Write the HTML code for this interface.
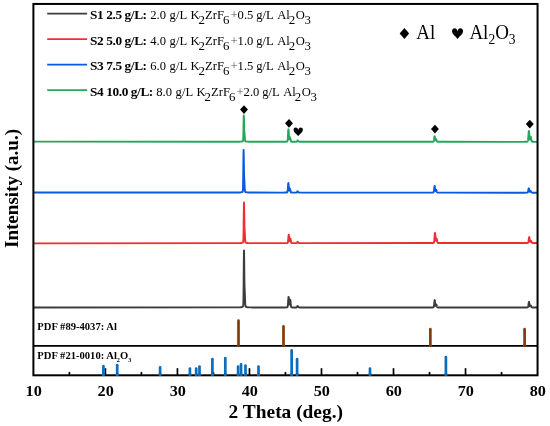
<!DOCTYPE html>
<html><head><meta charset="utf-8"><title>XRD patterns</title>
<style>
html,body{margin:0;padding:0;background:#fff;}
svg{display:block;}
text{font-family:"Liberation Serif","DejaVu Serif",serif;fill:#000;}
.b{font-weight:bold;}
</style></head><body>
<svg width="550" height="426" viewBox="0 0 550 426">
<rect width="550" height="426" fill="#fff"/>

<path d="M33.4,141.65 236.9,141.71 237.4,141.70 237.9,141.70 238.4,141.69 238.9,141.69 239.4,141.68 239.9,141.66 240.4,141.64 240.9,141.61 241.4,141.57 241.5,141.56 241.6,141.55 241.7,141.53 241.8,141.52 241.9,141.50 242.0,141.48 242.1,141.46 242.2,141.44 242.3,141.41 242.4,141.38 242.5,141.35 242.6,141.31 242.7,141.26 242.8,141.20 242.9,141.07 243.0,140.80 243.1,140.18 243.2,138.87 243.3,136.42 243.4,132.52 243.5,127.32 243.6,121.72 243.7,117.26 243.8,115.38 243.9,116.63 244.0,120.28 244.1,124.79 244.2,128.69 244.3,131.27 244.4,132.72 244.5,133.66 244.6,134.67 244.7,135.96 244.8,137.40 244.9,138.74 245.0,139.80 245.1,140.51 245.2,140.93 245.3,141.16 245.4,141.27 245.5,141.34 245.6,141.38 245.7,141.41 245.8,141.44 245.9,141.46 246.0,141.49 246.1,141.50 246.2,141.52 246.3,141.54 246.4,141.55 246.5,141.56 246.6,141.57 246.7,141.58 246.8,141.59 246.9,141.60 247.0,141.61 247.1,141.62 247.2,141.62 247.3,141.63 247.4,141.64 247.5,141.64 247.6,141.65 247.7,141.65 247.8,141.65 247.9,141.66 248.0,141.66 248.1,141.66 248.2,141.67 248.3,141.67 248.4,141.67 248.9,141.69 249.4,141.69 249.9,141.70 250.4,141.71 250.9,141.71 251.4,141.71 251.9,141.72 252.4,141.72 252.9,141.72 281.4,141.74 281.9,141.73 282.4,141.73 282.9,141.73 283.4,141.73 283.9,141.72 284.4,141.72 284.9,141.71 285.4,141.70 285.9,141.68 286.1,141.67 286.1,141.67 286.2,141.66 286.4,141.65 286.4,141.65 286.6,141.64 286.6,141.63 286.8,141.62 286.9,141.60 286.9,141.58 287.1,141.55 287.1,141.50 287.2,141.41 287.4,141.25 287.4,140.98 287.6,140.52 287.6,139.83 287.8,138.82 287.9,137.49 287.9,135.85 288.1,134.03 288.1,132.21 288.2,130.64 288.4,129.57 288.4,129.17 288.6,129.52 288.6,130.55 288.8,132.06 288.9,133.82 288.9,135.57 289.1,137.08 289.1,138.24 289.2,138.98 289.4,139.32 289.4,139.30 289.6,139.02 289.6,138.57 289.8,138.07 289.9,137.62 289.9,137.32 290.1,137.22 290.1,137.37 290.2,137.73 290.4,138.25 290.4,138.86 290.6,139.49 290.6,139.79 290.6,140.07 290.8,140.56 290.9,140.94 290.9,141.22 291.1,141.41 291.1,141.47 291.1,141.53 291.2,141.60 291.4,141.64 291.4,141.67 291.6,141.68 291.6,141.68 291.6,141.69 291.8,141.69 291.9,141.70 291.9,141.70 292.1,141.70 292.1,141.70 292.1,141.70 292.2,141.71 292.4,141.71 292.4,141.71 292.6,141.71 292.6,141.71 292.6,141.71 292.8,141.72 292.9,141.72 292.9,141.72 293.1,141.72 293.4,141.72 293.6,141.73 293.9,141.73 294.1,141.73 294.4,141.73 294.6,141.73 294.9,141.73 295.1,141.73 295.2,141.73 295.3,141.73 295.4,141.73 295.4,141.73 295.5,141.73 295.6,141.73 295.7,141.73 295.8,141.73 295.9,141.73 295.9,141.73 296.0,141.73 296.1,141.73 296.2,141.73 296.3,141.72 296.4,141.72 296.4,141.71 296.5,141.71 296.6,141.69 296.7,141.66 296.8,141.61 296.9,141.53 296.9,141.47 297.0,141.40 297.1,141.24 297.2,141.04 297.3,140.83 297.4,140.64 297.4,140.56 297.5,140.50 297.6,140.45 297.7,140.49 297.8,140.60 297.9,140.77 298.0,140.95 298.1,141.12 298.2,141.25 298.3,141.33 298.4,141.38 298.5,141.42 298.6,141.44 298.7,141.47 298.8,141.50 298.9,141.54 299.0,141.58 299.1,141.62 299.2,141.66 299.3,141.69 299.4,141.71 299.5,141.72 299.6,141.73 299.7,141.73 299.8,141.74 299.9,141.74 300.0,141.74 300.1,141.74 300.2,141.74 300.3,141.74 300.4,141.74 300.5,141.74 300.6,141.74 300.7,141.74 300.8,141.75 300.9,141.75 301.0,141.75 301.1,141.75 301.2,141.75 301.3,141.75 301.4,141.75 301.5,141.75 301.6,141.75 301.7,141.75 301.8,141.75 301.9,141.75 302.0,141.75 302.1,141.75 302.6,141.75 303.1,141.75 303.6,141.75 304.1,141.75 304.6,141.75 305.1,141.75 305.6,141.75 306.1,141.75 306.6,141.76 427.7,141.80 428.2,141.80 428.7,141.80 429.2,141.80 429.7,141.80 430.2,141.80 430.7,141.79 431.2,141.79 431.7,141.78 432.2,141.77 432.3,141.77 432.4,141.77 432.5,141.77 432.6,141.76 432.7,141.76 432.8,141.75 432.9,141.75 433.0,141.74 433.1,141.73 433.2,141.71 433.3,141.68 433.4,141.63 433.5,141.54 433.6,141.39 433.7,141.15 433.8,140.81 433.9,140.33 434.0,139.73 434.1,139.01 434.2,138.23 434.3,137.47 434.4,136.82 434.5,136.38 434.6,136.22 434.7,136.36 434.8,136.77 434.9,137.38 435.0,138.11 435.1,138.83 435.2,139.47 435.3,139.96 435.4,140.27 435.5,140.40 435.6,140.36 435.7,140.20 435.8,139.96 435.9,139.70 436.0,139.47 436.1,139.31 436.2,139.26 436.3,139.34 436.4,139.52 436.5,139.80 436.6,140.12 436.7,140.46 436.8,140.78 436.9,141.07 437.0,141.29 437.1,141.46 437.2,141.58 437.3,141.66 437.4,141.72 437.5,141.75 437.6,141.76 437.7,141.77 437.8,141.78 437.9,141.78 438.0,141.79 438.1,141.79 438.2,141.79 438.3,141.79 438.4,141.79 438.5,141.79 438.6,141.79 438.7,141.79 438.8,141.80 438.9,141.80 439.0,141.80 439.1,141.80 439.2,141.80 439.7,141.80 440.2,141.80 440.7,141.80 441.2,141.81 441.7,141.81 442.2,141.81 442.7,141.81 443.2,141.81 443.7,141.81 522.0,141.83 522.5,141.83 523.0,141.83 523.5,141.83 524.0,141.83 524.5,141.82 525.0,141.82 525.5,141.81 526.0,141.80 526.5,141.78 526.6,141.77 526.7,141.77 526.8,141.76 526.9,141.76 527.0,141.75 527.1,141.74 527.2,141.73 527.3,141.70 527.4,141.67 527.5,141.62 527.6,141.53 527.7,141.37 527.8,141.13 527.9,140.75 528.0,140.21 528.1,139.45 528.2,138.46 528.3,137.26 528.4,135.90 528.5,134.47 528.6,133.12 528.7,132.00 528.8,131.24 528.9,130.97 529.0,131.20 529.1,131.91 529.2,132.99 529.3,134.30 529.4,135.66 529.5,136.94 529.6,138.01 529.7,138.80 529.8,139.28 529.9,139.46 530.0,139.37 530.1,139.07 530.2,138.61 530.3,138.07 530.4,137.54 530.5,137.10 530.6,136.81 530.7,136.72 530.8,136.84 530.9,137.17 531.0,137.66 531.1,138.26 531.2,138.91 531.3,139.53 531.4,140.10 531.5,140.58 531.6,140.96 531.7,141.25 531.8,141.45 531.9,141.59 532.0,141.68 532.1,141.73 532.2,141.77 532.3,141.79 532.4,141.80 532.5,141.80 532.6,141.81 532.7,141.81 532.8,141.81 532.9,141.81 533.0,141.82 533.1,141.82 533.2,141.82 533.3,141.82 533.4,141.82 533.5,141.82 534.0,141.83 534.5,141.83 535.0,141.83 535.5,141.84 536.0,141.84 536.5,141.84 537.0,141.84 537.5,141.84 537.5,141.84" fill="none" stroke="#27a45e" stroke-width="1.9" stroke-linejoin="round"/>
<path d="M33.4,192.50 236.9,192.54 237.4,192.53 237.9,192.52 238.4,192.51 238.9,192.50 239.4,192.48 239.9,192.46 240.4,192.42 240.9,192.37 241.4,192.28 241.5,192.26 241.6,192.24 241.7,192.21 241.8,192.18 241.9,192.15 242.0,192.11 242.1,192.07 242.2,192.02 242.3,191.96 242.4,191.90 242.5,191.82 242.6,191.72 242.7,191.52 242.8,191.08 242.9,190.07 243.0,187.95 243.1,183.98 243.2,177.66 243.3,169.24 243.4,160.18 243.5,152.96 243.6,149.91 243.7,151.93 243.8,157.85 243.9,165.15 244.0,171.46 244.1,175.64 244.2,177.98 244.3,179.51 244.4,181.15 244.5,183.23 244.6,185.56 244.7,187.74 244.8,189.45 244.9,190.60 245.0,191.28 245.1,191.65 245.2,191.84 245.3,191.94 245.4,192.01 245.5,192.07 245.6,192.11 245.7,192.15 245.8,192.18 245.9,192.21 246.0,192.24 246.1,192.26 246.2,192.29 246.3,192.31 246.4,192.32 246.5,192.34 246.6,192.36 246.7,192.37 246.8,192.38 246.9,192.39 247.0,192.41 247.1,192.42 247.2,192.42 247.3,192.43 247.4,192.44 247.5,192.45 247.6,192.45 247.7,192.46 247.8,192.47 247.9,192.47 248.0,192.48 248.1,192.48 248.2,192.49 248.3,192.49 248.4,192.49 248.9,192.51 249.4,192.52 249.9,192.53 250.4,192.54 250.9,192.55 251.4,192.55 251.9,192.56 252.4,192.56 252.9,192.56 281.4,192.59 281.9,192.59 282.4,192.59 282.9,192.58 283.4,192.58 283.9,192.58 284.4,192.57 284.9,192.57 285.4,192.56 285.9,192.54 286.1,192.54 286.1,192.53 286.2,192.53 286.4,192.52 286.4,192.52 286.6,192.51 286.6,192.50 286.8,192.49 286.9,192.47 286.9,192.45 287.1,192.41 287.1,192.35 287.2,192.22 287.4,192.02 287.4,191.67 287.6,191.15 287.6,190.39 287.8,189.39 287.9,188.15 287.9,186.78 288.1,185.41 288.1,184.23 288.2,183.42 288.4,183.12 288.4,183.38 288.6,184.15 288.6,185.29 288.8,186.61 288.9,187.92 288.9,189.05 289.1,189.90 289.1,190.42 289.2,190.63 289.4,190.56 289.4,190.27 289.6,189.86 289.6,189.41 289.8,189.00 289.9,188.73 289.9,188.65 290.1,188.77 290.1,189.08 290.2,189.54 290.4,190.08 290.4,190.63 290.6,191.14 290.6,191.37 290.6,191.57 290.8,191.90 290.9,192.15 290.9,192.31 291.1,192.41 291.1,192.45 291.1,192.48 291.2,192.51 291.4,192.53 291.4,192.55 291.6,192.55 291.6,192.55 291.6,192.56 291.8,192.56 291.9,192.56 291.9,192.56 292.1,192.57 292.1,192.57 292.1,192.57 292.2,192.57 292.4,192.57 292.4,192.57 292.6,192.57 292.6,192.57 292.6,192.57 292.8,192.58 292.9,192.58 292.9,192.58 293.1,192.58 293.4,192.58 293.6,192.58 293.9,192.58 294.1,192.58 294.4,192.59 294.6,192.59 294.9,192.59 295.1,192.59 295.2,192.59 295.3,192.58 295.4,192.58 295.4,192.58 295.5,192.58 295.6,192.58 295.7,192.58 295.8,192.58 295.9,192.58 295.9,192.58 296.0,192.58 296.1,192.58 296.2,192.58 296.3,192.58 296.4,192.57 296.4,192.57 296.5,192.56 296.6,192.55 296.7,192.52 296.8,192.46 296.9,192.38 296.9,192.32 297.0,192.25 297.1,192.09 297.2,191.89 297.3,191.68 297.4,191.49 297.4,191.41 297.5,191.35 297.6,191.30 297.7,191.34 297.8,191.46 297.9,191.62 298.0,191.81 298.1,191.97 298.2,192.10 298.3,192.18 298.4,192.24 298.5,192.27 298.6,192.29 298.7,192.32 298.8,192.35 298.9,192.39 299.0,192.43 299.1,192.47 299.2,192.51 299.3,192.54 299.4,192.56 299.5,192.57 299.6,192.58 299.7,192.58 299.8,192.59 299.9,192.59 300.0,192.59 300.1,192.59 300.2,192.59 300.3,192.59 300.4,192.59 300.5,192.59 300.6,192.60 300.7,192.60 300.8,192.60 300.9,192.60 301.0,192.60 301.1,192.60 301.2,192.60 301.3,192.60 301.4,192.60 301.5,192.60 301.6,192.60 301.7,192.60 301.8,192.60 301.9,192.60 302.0,192.60 302.1,192.60 302.6,192.60 303.1,192.60 303.6,192.60 304.1,192.60 304.6,192.60 305.1,192.60 305.6,192.60 306.1,192.61 306.6,192.61 427.7,192.65 428.2,192.65 428.7,192.65 429.2,192.65 429.7,192.65 430.2,192.64 430.7,192.64 431.2,192.63 431.7,192.63 432.2,192.62 432.3,192.61 432.4,192.61 432.5,192.61 432.6,192.60 432.7,192.60 432.8,192.59 432.9,192.59 433.0,192.58 433.1,192.56 433.2,192.54 433.3,192.51 433.4,192.44 433.5,192.33 433.6,192.15 433.7,191.87 433.8,191.45 433.9,190.88 434.0,190.15 434.1,189.28 434.2,188.34 434.3,187.42 434.4,186.65 434.5,186.12 434.6,185.92 434.7,186.09 434.8,186.58 434.9,187.33 435.0,188.20 435.1,189.08 435.2,189.85 435.3,190.45 435.4,190.83 435.5,190.99 435.6,190.97 435.7,190.79 435.8,190.52 435.9,190.22 436.0,189.95 436.1,189.77 436.2,189.72 436.3,189.80 436.4,190.02 436.5,190.33 436.6,190.71 436.7,191.10 436.8,191.48 436.9,191.80 437.0,192.06 437.1,192.26 437.2,192.40 437.3,192.49 437.4,192.55 437.5,192.58 437.6,192.61 437.7,192.62 437.8,192.62 437.9,192.63 438.0,192.63 438.1,192.63 438.2,192.63 438.3,192.64 438.4,192.64 438.5,192.64 438.6,192.64 438.7,192.64 438.8,192.64 438.9,192.64 439.0,192.64 439.1,192.64 439.2,192.65 439.7,192.65 440.2,192.65 440.7,192.65 441.2,192.65 441.7,192.66 442.2,192.66 442.7,192.66 443.2,192.66 443.7,192.66 522.0,192.69 522.5,192.69 523.0,192.69 523.5,192.69 524.0,192.69 524.5,192.68 525.0,192.68 525.5,192.68 526.0,192.67 526.5,192.67 526.6,192.66 526.7,192.66 526.8,192.66 526.9,192.66 527.0,192.65 527.1,192.65 527.2,192.64 527.3,192.63 527.4,192.60 527.5,192.57 527.6,192.51 527.7,192.41 527.8,192.26 527.9,192.03 528.0,191.73 528.1,191.33 528.2,190.85 528.3,190.30 528.4,189.72 528.5,189.17 528.6,188.72 528.7,188.42 528.8,188.30 528.9,188.40 529.0,188.69 529.1,189.12 529.2,189.65 529.3,190.21 529.4,190.73 529.5,191.17 529.6,191.50 529.7,191.72 529.8,191.81 529.9,191.81 530.0,191.72 530.1,191.58 530.2,191.41 530.3,191.23 530.4,191.09 530.5,190.99 530.6,190.96 530.7,191.00 530.8,191.12 530.9,191.28 531.0,191.48 531.1,191.70 531.2,191.91 531.3,192.10 531.4,192.27 531.5,192.40 531.6,192.49 531.7,192.56 531.8,192.61 531.9,192.64 532.0,192.66 532.1,192.67 532.2,192.67 532.3,192.68 532.4,192.68 532.5,192.68 532.6,192.68 532.7,192.68 532.8,192.68 532.9,192.69 533.0,192.69 533.1,192.69 533.2,192.69 533.3,192.69 533.4,192.69 533.5,192.69 534.0,192.69 534.5,192.69 535.0,192.69 535.5,192.69 536.0,192.70 536.5,192.70 537.0,192.70 537.5,192.70 537.5,192.70" fill="none" stroke="#0c58de" stroke-width="1.9" stroke-linejoin="round"/>
<path d="M33.4,243.35 236.9,243.17 237.4,243.17 237.9,243.16 238.4,243.15 238.9,243.14 239.4,243.13 239.9,243.11 240.4,243.08 240.9,243.04 241.4,242.99 241.5,242.97 241.6,242.96 241.7,242.94 241.8,242.92 241.9,242.90 242.0,242.88 242.1,242.85 242.2,242.82 242.3,242.79 242.4,242.75 242.5,242.71 242.6,242.66 242.7,242.61 242.8,242.55 242.9,242.48 243.0,242.38 243.1,242.19 243.2,241.77 243.3,240.81 243.4,238.78 243.5,235.00 243.6,228.96 243.7,220.92 243.8,212.28 243.9,205.39 244.0,202.48 244.1,204.40 244.2,210.05 244.3,217.03 244.4,223.05 244.5,227.03 244.6,229.27 244.7,230.73 244.8,232.29 244.9,234.28 245.0,236.50 245.1,238.58 245.2,240.21 245.3,241.31 245.4,241.96 245.5,242.31 245.6,242.49 245.7,242.59 245.8,242.66 245.9,242.71 246.0,242.75 246.1,242.79 246.2,242.82 246.3,242.85 246.4,242.87 246.5,242.90 246.6,242.92 246.7,242.94 246.8,242.95 246.9,242.97 247.0,242.98 247.1,243.00 247.2,243.01 247.3,243.02 247.4,243.03 247.5,243.04 247.6,243.05 247.7,243.06 247.8,243.06 247.9,243.07 248.0,243.08 248.1,243.08 248.2,243.09 248.3,243.09 248.4,243.10 248.9,243.12 249.4,243.13 249.9,243.14 250.4,243.15 250.9,243.16 251.4,243.16 251.9,243.17 252.4,243.17 252.9,243.17 281.4,243.17 281.9,243.17 282.4,243.17 282.9,243.16 283.4,243.16 283.9,243.16 284.4,243.16 284.9,243.15 285.4,243.14 285.9,243.13 286.1,243.13 286.1,243.13 286.2,243.12 286.4,243.12 286.4,243.12 286.6,243.11 286.6,243.11 286.8,243.10 286.9,243.10 286.9,243.09 287.1,243.08 287.1,243.07 287.2,243.06 287.4,243.04 287.4,243.01 287.6,242.95 287.6,242.84 287.8,242.65 287.9,242.34 287.9,241.87 288.1,241.20 288.1,240.30 288.2,239.19 288.4,237.97 288.4,236.74 288.6,235.68 288.6,234.96 288.8,234.69 288.9,234.92 288.9,235.61 289.1,236.62 289.1,237.80 289.2,238.95 289.4,239.93 289.4,240.65 289.6,241.05 289.6,241.14 289.8,240.96 289.9,240.57 289.9,240.05 290.1,239.50 290.1,239.01 290.2,238.69 290.4,238.58 290.4,238.72 290.6,239.08 290.6,239.33 290.6,239.62 290.8,240.25 290.9,240.89 290.9,241.48 291.1,241.98 291.1,242.19 291.1,242.37 291.2,242.66 291.4,242.85 291.4,242.97 291.6,243.04 291.6,243.06 291.6,243.08 291.8,243.11 291.9,243.12 291.9,243.12 292.1,243.13 292.1,243.13 292.1,243.13 292.2,243.13 292.4,243.13 292.4,243.14 292.6,243.14 292.6,243.14 292.6,243.14 292.8,243.14 292.9,243.14 292.9,243.14 293.1,243.14 293.4,243.15 293.6,243.15 293.9,243.15 294.1,243.15 294.4,243.15 294.6,243.15 294.9,243.15 295.1,243.15 295.2,243.15 295.3,243.15 295.4,243.15 295.4,243.15 295.5,243.15 295.6,243.15 295.7,243.15 295.8,243.15 295.9,243.14 295.9,243.14 296.0,243.14 296.1,243.14 296.2,243.14 296.3,243.14 296.4,243.13 296.4,243.13 296.5,243.12 296.6,243.10 296.7,243.07 296.8,243.01 296.9,242.92 296.9,242.86 297.0,242.79 297.1,242.61 297.2,242.40 297.3,242.17 297.4,241.97 297.4,241.88 297.5,241.82 297.6,241.76 297.7,241.80 297.8,241.93 297.9,242.11 298.0,242.31 298.1,242.48 298.2,242.62 298.3,242.71 298.4,242.77 298.5,242.80 298.6,242.83 298.7,242.86 298.8,242.89 298.9,242.94 299.0,242.98 299.1,243.03 299.2,243.06 299.3,243.09 299.4,243.11 299.5,243.13 299.6,243.14 299.7,243.14 299.8,243.15 299.9,243.15 300.0,243.15 300.1,243.15 300.2,243.15 300.3,243.15 300.4,243.15 300.5,243.15 300.6,243.15 300.7,243.15 300.8,243.15 300.9,243.15 301.0,243.15 301.1,243.16 301.2,243.16 301.3,243.16 301.4,243.16 301.5,243.16 301.6,243.16 301.7,243.16 301.8,243.16 301.9,243.16 302.0,243.16 302.1,243.16 302.6,243.16 303.1,243.16 303.6,243.16 304.1,243.16 304.6,243.16 305.1,243.16 305.6,243.16 306.1,243.16 306.6,243.16 427.7,243.07 428.2,243.07 428.7,243.06 429.2,243.06 429.7,243.06 430.2,243.06 430.7,243.05 431.2,243.05 431.7,243.04 432.2,243.02 432.3,243.02 432.4,243.02 432.5,243.01 432.6,243.01 432.7,243.01 432.8,243.00 432.9,243.00 433.0,242.99 433.1,242.98 433.2,242.97 433.3,242.96 433.4,242.95 433.5,242.93 433.6,242.90 433.7,242.84 433.8,242.74 433.9,242.58 434.0,242.30 434.1,241.87 434.2,241.25 434.3,240.38 434.4,239.28 434.5,237.97 434.6,236.55 434.7,235.16 434.8,233.98 434.9,233.19 435.0,232.89 435.1,233.14 435.2,233.89 435.3,235.01 435.4,236.33 435.5,237.66 435.6,238.83 435.7,239.73 435.8,240.31 435.9,240.56 436.0,240.51 436.1,240.24 436.2,239.83 436.3,239.38 436.4,238.98 436.5,238.71 436.6,238.63 436.7,238.75 436.8,239.08 436.9,239.56 437.0,240.12 437.1,240.72 437.2,241.28 437.3,241.77 437.4,242.16 437.5,242.46 437.6,242.67 437.7,242.81 437.8,242.90 437.9,242.96 438.0,242.99 438.1,243.00 438.2,243.01 438.3,243.02 438.4,243.02 438.5,243.03 438.6,243.03 438.7,243.03 438.8,243.03 438.9,243.04 439.0,243.04 439.1,243.04 439.2,243.04 439.7,243.04 440.2,243.05 440.7,243.05 441.2,243.05 441.7,243.06 442.2,243.06 442.7,243.06 443.2,243.06 443.7,243.06 522.0,243.01 522.5,243.00 523.0,243.00 523.5,243.00 524.0,243.00 524.5,243.00 525.0,242.99 525.5,242.99 526.0,242.99 526.5,242.98 526.6,242.98 526.7,242.97 526.8,242.97 526.9,242.97 527.0,242.97 527.1,242.96 527.2,242.96 527.3,242.95 527.4,242.95 527.5,242.94 527.6,242.93 527.7,242.91 527.8,242.88 527.9,242.83 528.0,242.75 528.1,242.62 528.2,242.42 528.3,242.12 528.4,241.71 528.5,241.18 528.6,240.53 528.7,239.79 528.8,239.02 528.9,238.28 529.0,237.67 529.1,237.27 529.2,237.12 529.3,237.24 529.4,237.63 529.5,238.22 529.6,238.92 529.7,239.67 529.8,240.37 529.9,240.96 530.0,241.41 530.1,241.71 530.2,241.85 530.3,241.85 530.4,241.75 530.5,241.57 530.6,241.35 530.7,241.13 530.8,240.95 530.9,240.83 531.0,240.79 531.1,240.84 531.2,240.99 531.3,241.20 531.4,241.46 531.5,241.73 531.6,242.00 531.7,242.25 531.8,242.45 531.9,242.62 532.0,242.74 532.1,242.83 532.2,242.89 532.3,242.93 532.4,242.95 532.5,242.96 532.6,242.97 532.7,242.98 532.8,242.98 532.9,242.98 533.0,242.98 533.1,242.98 533.2,242.98 533.3,242.99 533.4,242.99 533.5,242.99 534.0,242.99 534.5,242.99 535.0,242.99 535.5,242.99 536.0,242.99 536.5,243.00 537.0,243.00 537.5,243.00 537.5,243.00" fill="none" stroke="#ef2e33" stroke-width="1.9" stroke-linejoin="round"/>
<path d="M33.4,307.45 236.9,307.42 237.4,307.41 237.9,307.40 238.4,307.39 238.9,307.38 239.4,307.36 239.9,307.33 240.4,307.30 240.9,307.24 241.4,307.17 241.5,307.15 241.6,307.12 241.7,307.10 241.8,307.07 241.9,307.04 242.0,307.01 242.1,306.97 242.2,306.93 242.3,306.89 242.4,306.84 242.5,306.78 242.6,306.71 242.7,306.64 242.8,306.56 242.9,306.46 243.0,306.31 243.1,306.04 243.2,305.46 243.3,304.11 243.4,301.27 243.5,295.96 243.6,287.51 243.7,276.23 243.8,264.12 243.9,254.45 244.0,250.37 244.1,253.07 244.2,260.99 244.3,270.77 244.4,279.21 244.5,284.80 244.6,287.93 244.7,289.98 244.8,292.17 244.9,294.95 245.0,298.08 245.1,300.99 245.2,303.28 245.3,304.82 245.4,305.73 245.5,306.22 245.6,306.47 245.7,306.62 245.8,306.71 245.9,306.78 246.0,306.84 246.1,306.89 246.2,306.93 246.3,306.97 246.4,307.01 246.5,307.04 246.6,307.07 246.7,307.10 246.8,307.12 246.9,307.15 247.0,307.17 247.1,307.18 247.2,307.20 247.3,307.22 247.4,307.23 247.5,307.24 247.6,307.26 247.7,307.27 247.8,307.28 247.9,307.29 248.0,307.30 248.1,307.30 248.2,307.31 248.3,307.32 248.4,307.33 248.9,307.35 249.4,307.37 249.9,307.39 250.4,307.40 250.9,307.41 251.4,307.42 251.9,307.43 252.4,307.43 252.9,307.44 281.4,307.46 281.9,307.46 282.4,307.46 282.9,307.46 283.4,307.46 283.9,307.45 284.4,307.45 284.9,307.44 285.4,307.43 285.9,307.42 286.1,307.41 286.1,307.41 286.2,307.41 286.4,307.40 286.4,307.39 286.6,307.39 286.6,307.38 286.8,307.37 286.9,307.37 286.9,307.36 287.1,307.34 287.1,307.32 287.2,307.29 287.4,307.23 287.4,307.13 287.6,306.95 287.6,306.65 287.8,306.17 287.9,305.45 287.9,304.46 288.1,303.19 288.1,301.71 288.2,300.14 288.4,298.67 288.4,297.52 288.6,296.88 288.6,296.86 288.8,297.45 288.9,298.54 288.9,299.94 289.1,301.40 289.1,302.73 289.2,303.74 289.4,304.34 289.4,304.50 289.6,304.23 289.6,303.61 289.8,302.74 289.9,301.76 289.9,300.82 290.1,300.09 290.1,299.70 290.2,299.72 290.4,300.16 290.4,300.94 290.6,301.95 290.6,302.50 290.6,303.05 290.8,304.13 290.9,305.07 290.9,305.83 291.1,306.40 291.1,306.62 291.1,306.80 291.2,307.06 291.4,307.22 291.4,307.32 291.6,307.37 291.6,307.39 291.6,307.40 291.8,307.41 291.9,307.42 291.9,307.42 292.1,307.43 292.1,307.43 292.1,307.43 292.2,307.43 292.4,307.43 292.4,307.44 292.6,307.44 292.6,307.44 292.6,307.44 292.8,307.44 292.9,307.44 292.9,307.44 293.1,307.45 293.4,307.45 293.6,307.45 293.9,307.45 294.1,307.45 294.4,307.45 294.6,307.45 294.9,307.45 295.1,307.45 295.2,307.45 295.3,307.45 295.4,307.45 295.4,307.45 295.5,307.45 295.6,307.45 295.7,307.45 295.8,307.45 295.9,307.45 295.9,307.45 296.0,307.45 296.1,307.45 296.2,307.45 296.3,307.44 296.4,307.44 296.4,307.43 296.5,307.43 296.6,307.41 296.7,307.37 296.8,307.31 296.9,307.21 296.9,307.15 297.0,307.07 297.1,306.88 297.2,306.65 297.3,306.41 297.4,306.19 297.4,306.10 297.5,306.03 297.6,305.97 297.7,306.02 297.8,306.15 297.9,306.34 298.0,306.55 298.1,306.74 298.2,306.89 298.3,306.99 298.4,307.05 298.5,307.09 298.6,307.11 298.7,307.14 298.8,307.18 298.9,307.23 299.0,307.28 299.1,307.33 299.2,307.37 299.3,307.40 299.4,307.42 299.5,307.44 299.6,307.45 299.7,307.45 299.8,307.46 299.9,307.46 300.0,307.46 300.1,307.46 300.2,307.46 300.3,307.46 300.4,307.46 300.5,307.46 300.6,307.46 300.7,307.46 300.8,307.47 300.9,307.47 301.0,307.47 301.1,307.47 301.2,307.47 301.3,307.47 301.4,307.47 301.5,307.47 301.6,307.47 301.7,307.47 301.8,307.47 301.9,307.47 302.0,307.47 302.1,307.47 302.6,307.47 303.1,307.47 303.6,307.47 304.1,307.47 304.6,307.47 305.1,307.47 305.6,307.47 306.1,307.47 306.6,307.47 427.7,307.48 428.2,307.48 428.7,307.48 429.2,307.48 429.7,307.48 430.2,307.47 430.7,307.47 431.2,307.47 431.7,307.46 432.2,307.45 432.3,307.44 432.4,307.44 432.5,307.44 432.6,307.43 432.7,307.43 432.8,307.42 432.9,307.42 433.0,307.41 433.1,307.40 433.2,307.39 433.3,307.36 433.4,307.32 433.5,307.25 433.6,307.13 433.7,306.93 433.8,306.62 433.9,306.17 434.0,305.54 434.1,304.74 434.2,303.79 434.3,302.76 434.4,301.75 434.5,300.90 434.6,300.32 434.7,300.10 434.8,300.29 434.9,300.83 435.0,301.64 435.1,302.60 435.2,303.57 435.3,304.42 435.4,305.08 435.5,305.51 435.6,305.70 435.7,305.69 435.8,305.51 435.9,305.23 436.0,304.92 436.1,304.65 436.2,304.46 436.3,304.41 436.4,304.50 436.5,304.72 436.6,305.05 436.7,305.45 436.8,305.86 436.9,306.25 437.0,306.59 437.1,306.86 437.2,307.07 437.3,307.21 437.4,307.31 437.5,307.37 437.6,307.41 437.7,307.43 437.8,307.44 437.9,307.45 438.0,307.46 438.1,307.46 438.2,307.46 438.3,307.46 438.4,307.46 438.5,307.46 438.6,307.47 438.7,307.47 438.8,307.47 438.9,307.47 439.0,307.47 439.1,307.47 439.2,307.47 439.7,307.48 440.2,307.48 440.7,307.48 441.2,307.48 441.7,307.48 442.2,307.48 442.7,307.48 443.2,307.49 443.7,307.49 522.0,307.49 522.5,307.49 523.0,307.49 523.5,307.49 524.0,307.49 524.5,307.49 525.0,307.48 525.5,307.48 526.0,307.47 526.5,307.47 526.6,307.46 526.7,307.46 526.8,307.46 526.9,307.46 527.0,307.45 527.1,307.45 527.2,307.44 527.3,307.44 527.4,307.43 527.5,307.41 527.6,307.38 527.7,307.33 527.8,307.25 527.9,307.12 528.0,306.93 528.1,306.64 528.2,306.25 528.3,305.73 528.4,305.10 528.5,304.39 528.6,303.64 528.7,302.94 528.8,302.35 528.9,301.95 529.0,301.81 529.1,301.93 529.2,302.30 529.3,302.87 529.4,303.56 529.5,304.28 529.6,304.96 529.7,305.53 529.8,305.97 529.9,306.26 530.0,306.41 530.1,306.42 530.2,306.34 530.3,306.18 530.4,305.98 530.5,305.78 530.6,305.61 530.7,305.50 530.8,305.47 530.9,305.52 531.0,305.65 531.1,305.84 531.2,306.08 531.3,306.33 531.4,306.58 531.5,306.80 531.6,306.99 531.7,307.14 531.8,307.26 531.9,307.34 532.0,307.39 532.1,307.43 532.2,307.45 532.3,307.46 532.4,307.47 532.5,307.47 532.6,307.48 532.7,307.48 532.8,307.48 532.9,307.48 533.0,307.48 533.1,307.48 533.2,307.48 533.3,307.48 533.4,307.48 533.5,307.49 534.0,307.49 534.5,307.49 535.0,307.49 535.5,307.49 536.0,307.49 536.5,307.49 537.0,307.50 537.5,307.50 537.5,307.50" fill="none" stroke="#3c3c3c" stroke-width="1.9" stroke-linejoin="round"/>
<line x1="69.41" y1="375.3" x2="69.41" y2="371.9" stroke="#000" stroke-width="1.7"/>
<line x1="105.42" y1="375.3" x2="105.42" y2="368.2" stroke="#000" stroke-width="1.7"/>
<line x1="141.43" y1="375.3" x2="141.43" y2="371.9" stroke="#000" stroke-width="1.7"/>
<line x1="177.44" y1="375.3" x2="177.44" y2="368.2" stroke="#000" stroke-width="1.7"/>
<line x1="213.45" y1="375.3" x2="213.45" y2="371.9" stroke="#000" stroke-width="1.7"/>
<line x1="249.46" y1="375.3" x2="249.46" y2="368.2" stroke="#000" stroke-width="1.7"/>
<line x1="285.47" y1="375.3" x2="285.47" y2="371.9" stroke="#000" stroke-width="1.7"/>
<line x1="321.49" y1="375.3" x2="321.49" y2="368.2" stroke="#000" stroke-width="1.7"/>
<line x1="357.50" y1="375.3" x2="357.50" y2="371.9" stroke="#000" stroke-width="1.7"/>
<line x1="393.51" y1="375.3" x2="393.51" y2="368.2" stroke="#000" stroke-width="1.7"/>
<line x1="429.52" y1="375.3" x2="429.52" y2="371.9" stroke="#000" stroke-width="1.7"/>
<line x1="465.53" y1="375.3" x2="465.53" y2="368.2" stroke="#000" stroke-width="1.7"/>
<line x1="501.54" y1="375.3" x2="501.54" y2="371.9" stroke="#000" stroke-width="1.7"/>
<line x1="33.4" y1="345.8" x2="537.55" y2="345.8" stroke="#000" stroke-width="1.8"/>
<rect x="33.4" y="3.95" width="504.15" height="371.35" fill="none" stroke="#000" stroke-width="2"/>
<line x1="238.5" y1="320.70" x2="238.5" y2="345.80" stroke="#803c0a" stroke-width="2.7" stroke-linecap="round"/>
<line x1="238.5" y1="344.80" x2="238.5" y2="346.30" stroke="#803c0a" stroke-width="2.7"/>
<line x1="283.5" y1="326.40" x2="283.5" y2="345.80" stroke="#803c0a" stroke-width="2.7" stroke-linecap="round"/>
<line x1="283.5" y1="344.80" x2="283.5" y2="346.30" stroke="#803c0a" stroke-width="2.7"/>
<line x1="430.35" y1="329.15" x2="430.35" y2="345.80" stroke="#803c0a" stroke-width="2.7" stroke-linecap="round"/>
<line x1="430.35" y1="344.80" x2="430.35" y2="346.30" stroke="#803c0a" stroke-width="2.7"/>
<line x1="524.6" y1="329.15" x2="524.6" y2="345.80" stroke="#803c0a" stroke-width="2.7" stroke-linecap="round"/>
<line x1="524.6" y1="344.80" x2="524.6" y2="346.30" stroke="#803c0a" stroke-width="2.7"/>
<line x1="103.4" y1="366.20" x2="103.4" y2="374.30" stroke="#0b6dbb" stroke-width="2.7" stroke-linecap="round"/>
<line x1="103.4" y1="373.30" x2="103.4" y2="375.90" stroke="#0b6dbb" stroke-width="2.7"/>
<line x1="117.2" y1="365.15" x2="117.2" y2="374.30" stroke="#0b6dbb" stroke-width="2.7" stroke-linecap="round"/>
<line x1="117.2" y1="373.30" x2="117.2" y2="375.90" stroke="#0b6dbb" stroke-width="2.7"/>
<line x1="160.1" y1="367.40" x2="160.1" y2="374.30" stroke="#0b6dbb" stroke-width="2.7" stroke-linecap="round"/>
<line x1="160.1" y1="373.30" x2="160.1" y2="375.90" stroke="#0b6dbb" stroke-width="2.7"/>
<line x1="189.9" y1="368.50" x2="189.9" y2="374.30" stroke="#0b6dbb" stroke-width="2.7" stroke-linecap="round"/>
<line x1="189.9" y1="373.30" x2="189.9" y2="375.90" stroke="#0b6dbb" stroke-width="2.7"/>
<line x1="196.2" y1="368.50" x2="196.2" y2="374.30" stroke="#0b6dbb" stroke-width="2.7" stroke-linecap="round"/>
<line x1="196.2" y1="373.30" x2="196.2" y2="375.90" stroke="#0b6dbb" stroke-width="2.7"/>
<line x1="199.5" y1="366.60" x2="199.5" y2="374.30" stroke="#0b6dbb" stroke-width="2.7" stroke-linecap="round"/>
<line x1="199.5" y1="373.30" x2="199.5" y2="375.90" stroke="#0b6dbb" stroke-width="2.7"/>
<line x1="212.4" y1="359.20" x2="212.4" y2="374.30" stroke="#0b6dbb" stroke-width="2.7" stroke-linecap="round"/>
<line x1="212.4" y1="373.30" x2="212.4" y2="375.90" stroke="#0b6dbb" stroke-width="2.7"/>
<line x1="225.3" y1="358.10" x2="225.3" y2="374.30" stroke="#0b6dbb" stroke-width="2.7" stroke-linecap="round"/>
<line x1="225.3" y1="373.30" x2="225.3" y2="375.90" stroke="#0b6dbb" stroke-width="2.7"/>
<line x1="238.1" y1="366.60" x2="238.1" y2="374.30" stroke="#0b6dbb" stroke-width="2.7" stroke-linecap="round"/>
<line x1="238.1" y1="373.30" x2="238.1" y2="375.90" stroke="#0b6dbb" stroke-width="2.7"/>
<line x1="241.05" y1="364.40" x2="241.05" y2="374.30" stroke="#0b6dbb" stroke-width="2.7" stroke-linecap="round"/>
<line x1="241.05" y1="373.30" x2="241.05" y2="375.90" stroke="#0b6dbb" stroke-width="2.7"/>
<line x1="245.5" y1="365.50" x2="245.5" y2="374.30" stroke="#0b6dbb" stroke-width="2.7" stroke-linecap="round"/>
<line x1="245.5" y1="373.30" x2="245.5" y2="375.90" stroke="#0b6dbb" stroke-width="2.7"/>
<line x1="258.5" y1="366.60" x2="258.5" y2="374.30" stroke="#0b6dbb" stroke-width="2.7" stroke-linecap="round"/>
<line x1="258.5" y1="373.30" x2="258.5" y2="375.90" stroke="#0b6dbb" stroke-width="2.7"/>
<line x1="291.65" y1="350.25" x2="291.65" y2="374.30" stroke="#0b6dbb" stroke-width="2.7" stroke-linecap="round"/>
<line x1="291.65" y1="373.30" x2="291.65" y2="375.90" stroke="#0b6dbb" stroke-width="2.7"/>
<line x1="297.1" y1="359.20" x2="297.1" y2="374.30" stroke="#0b6dbb" stroke-width="2.7" stroke-linecap="round"/>
<line x1="297.1" y1="373.30" x2="297.1" y2="375.90" stroke="#0b6dbb" stroke-width="2.7"/>
<line x1="370.0" y1="368.50" x2="370.0" y2="374.30" stroke="#0b6dbb" stroke-width="2.7" stroke-linecap="round"/>
<line x1="370.0" y1="373.30" x2="370.0" y2="375.90" stroke="#0b6dbb" stroke-width="2.7"/>
<line x1="445.9" y1="357.20" x2="445.9" y2="374.30" stroke="#0b6dbb" stroke-width="2.7" stroke-linecap="round"/>
<line x1="445.9" y1="373.30" x2="445.9" y2="375.90" stroke="#0b6dbb" stroke-width="2.7"/>
<text class="b" transform="translate(33.70,395.9) scale(1.04,1)" font-size="15.6" text-anchor="middle">10</text>
<text class="b" transform="translate(105.72,395.9) scale(1.04,1)" font-size="15.6" text-anchor="middle">20</text>
<text class="b" transform="translate(177.74,395.9) scale(1.04,1)" font-size="15.6" text-anchor="middle">30</text>
<text class="b" transform="translate(249.76,395.9) scale(1.04,1)" font-size="15.6" text-anchor="middle">40</text>
<text class="b" transform="translate(321.79,395.9) scale(1.04,1)" font-size="15.6" text-anchor="middle">50</text>
<text class="b" transform="translate(393.81,395.9) scale(1.04,1)" font-size="15.6" text-anchor="middle">60</text>
<text class="b" transform="translate(465.83,395.9) scale(1.04,1)" font-size="15.6" text-anchor="middle">70</text>
<text class="b" transform="translate(537.85,395.9) scale(1.04,1)" font-size="15.6" text-anchor="middle">80</text>
<text class="b" transform="translate(285.8,418.1) scale(1.066,1)" font-size="18.2" text-anchor="middle">2 Theta (deg.)</text>
<text class="b" transform="translate(17.5,188.5) rotate(-90) scale(1.035,1)" font-size="18.4" text-anchor="middle">Intensity (a.u.)</text>
<text class="b" transform="translate(37.3,330.4) scale(1.008,1.06)" font-size="10.5">PDF #89-4037: Al</text>
<text class="b" transform="translate(37.3,358.9) scale(1.008,1.06)" font-size="10.5">PDF #21-0010: Al<tspan font-size="6.1" dy="2.8">2</tspan><tspan dy="-2.8">O</tspan><tspan font-size="6.1" dy="2.8">3</tspan></text>
<line x1="47.2" y1="13.6" x2="87.1" y2="13.6" stroke="#3c3c3c" stroke-width="1.7"/>
<text class="b" x="90.1" y="19.25" font-size="13.3" letter-spacing="-0.4">S1 2.5 g/L: </text>
<text transform="translate(0,19.25) scale(1,1.035)" font-size="12.6"><tspan x="150.3" y="0.00">2.0 </tspan><tspan x="169.6" y="0.00">g/L </tspan><tspan x="190.5" y="0.00">K</tspan><tspan x="198.6" y="5.02" font-size="12.9">2</tspan><tspan x="205.1" y="0.00">ZrF</tspan><tspan x="222.9" y="5.02" font-size="12.9">6</tspan><tspan x="230.5" y="0.00" fill="#555">+</tspan><tspan>0.5 </tspan><tspan x="256.3" y="0.00">g/L </tspan><tspan x="277.2" y="0.00">Al</tspan><tspan x="288.7" y="5.02" font-size="12.9">2</tspan><tspan x="295.7" y="0.00">O</tspan><tspan x="304.4" y="5.02" font-size="12.9">3</tspan></text>
<line x1="47.2" y1="39.05" x2="87.1" y2="39.05" stroke="#ef2e33" stroke-width="1.7"/>
<text class="b" x="90.1" y="44.8" font-size="13.3" letter-spacing="-0.4">S2 5.0 g/L: </text>
<text transform="translate(0,44.8) scale(1,1.035)" font-size="12.6"><tspan x="150.3" y="0.00">4.0 </tspan><tspan x="169.6" y="0.00">g/L </tspan><tspan x="190.5" y="0.00">K</tspan><tspan x="198.6" y="5.02" font-size="12.9">2</tspan><tspan x="205.1" y="0.00">ZrF</tspan><tspan x="222.9" y="5.02" font-size="12.9">6</tspan><tspan x="230.5" y="0.00" fill="#555">+</tspan><tspan>1.0 </tspan><tspan x="256.3" y="0.00">g/L </tspan><tspan x="277.2" y="0.00">Al</tspan><tspan x="288.7" y="5.02" font-size="12.9">2</tspan><tspan x="295.7" y="0.00">O</tspan><tspan x="304.4" y="5.02" font-size="12.9">3</tspan></text>
<line x1="47.2" y1="64.6" x2="87.1" y2="64.6" stroke="#0c58de" stroke-width="1.7"/>
<text class="b" x="90.1" y="70.3" font-size="13.3" letter-spacing="-0.4">S3 7.5 g/L: </text>
<text transform="translate(0,70.3) scale(1,1.035)" font-size="12.6"><tspan x="150.3" y="0.00">6.0 </tspan><tspan x="169.6" y="0.00">g/L </tspan><tspan x="190.5" y="0.00">K</tspan><tspan x="198.6" y="5.02" font-size="12.9">2</tspan><tspan x="205.1" y="0.00">ZrF</tspan><tspan x="222.9" y="5.02" font-size="12.9">6</tspan><tspan x="230.5" y="0.00" fill="#555">+</tspan><tspan>1.5 </tspan><tspan x="256.3" y="0.00">g/L </tspan><tspan x="277.2" y="0.00">Al</tspan><tspan x="288.7" y="5.02" font-size="12.9">2</tspan><tspan x="295.7" y="0.00">O</tspan><tspan x="304.4" y="5.02" font-size="12.9">3</tspan></text>
<line x1="47.2" y1="90.1" x2="87.1" y2="90.1" stroke="#27a45e" stroke-width="1.7"/>
<text class="b" x="90.1" y="95.8" font-size="13.3" letter-spacing="-0.4">S4 10.0 g/L: </text>
<text transform="translate(0,95.8) scale(1,1.035)" font-size="12.6"><tspan x="156.3" y="0.00">8.0 </tspan><tspan x="175.6" y="0.00">g/L </tspan><tspan x="196.5" y="0.00">K</tspan><tspan x="204.6" y="5.02" font-size="12.9">2</tspan><tspan x="211.1" y="0.00">ZrF</tspan><tspan x="228.9" y="5.02" font-size="12.9">6</tspan><tspan x="236.5" y="0.00" fill="#555">+</tspan><tspan>2.0 </tspan><tspan x="262.3" y="0.00">g/L </tspan><tspan x="283.2" y="0.00">Al</tspan><tspan x="294.7" y="5.02" font-size="12.9">2</tspan><tspan x="301.7" y="0.00">O</tspan><tspan x="310.4" y="5.02" font-size="12.9">3</tspan></text>
<text transform="translate(416.3,38.7) scale(1,1.06)" font-size="19">Al</text>
<text transform="translate(469.4,38.7) scale(1,1.06)" font-size="19">Al<tspan font-size="13.5" dy="5.1">2</tspan><tspan dy="-5.1">O</tspan><tspan font-size="13.5" dy="5.1">3</tspan></text>
<path d="M404.4,27.95 L409.15,33.5 L404.4,39.05 L399.65,33.5 Z" fill="#000"/>
<path transform="translate(457.55,33.65) scale(11.0,10.9)" d="M0,0.5 C-0.12,0.27 -0.5,0.04 -0.5,-0.23 C-0.5,-0.40 -0.39,-0.5 -0.26,-0.5 C-0.12,-0.5 -0.03,-0.39 0,-0.2 C0.03,-0.39 0.12,-0.5 0.26,-0.5 C0.39,-0.5 0.5,-0.40 0.5,-0.23 C0.5,0.04 0.12,0.27 0,0.5 Z" fill="#000"/>
<path d="M244.0,105.20 L247.95,109.6 L244.0,114.00 L240.05,109.6 Z" fill="#000"/>
<path d="M289.0,118.90 L292.95,123.3 L289.0,127.70 L285.05,123.3 Z" fill="#000"/>
<path d="M434.95,124.70 L438.90,129.1 L434.95,133.50 L431.00,129.1 Z" fill="#000"/>
<path d="M529.8,119.65 L533.75,124.05 L529.8,128.45 L525.85,124.05 Z" fill="#000"/>
<path transform="translate(298.2,131.9) scale(9.3,8.6)" d="M0,0.5 C-0.12,0.27 -0.5,0.04 -0.5,-0.23 C-0.5,-0.40 -0.39,-0.5 -0.26,-0.5 C-0.12,-0.5 -0.03,-0.39 0,-0.2 C0.03,-0.39 0.12,-0.5 0.26,-0.5 C0.39,-0.5 0.5,-0.40 0.5,-0.23 C0.5,0.04 0.12,0.27 0,0.5 Z" fill="#000"/>
</svg></body></html>
